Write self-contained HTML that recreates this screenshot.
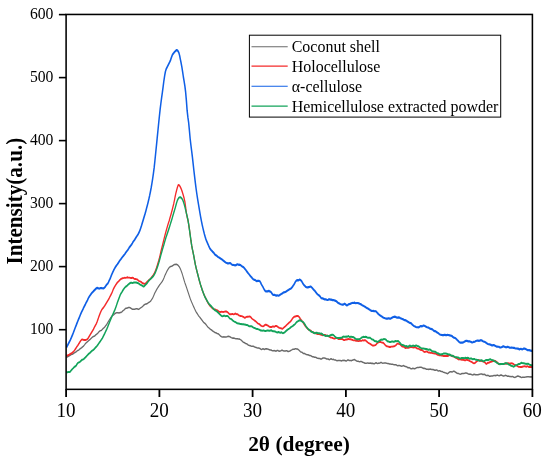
<!DOCTYPE html>
<html><head><meta charset="utf-8"><title>XRD</title>
<style>html,body{margin:0;padding:0;background:#fff}svg{display:block}text{font-family:"Liberation Serif",serif;fill:#000}</style></head><body>
<svg width="550" height="463" viewBox="0 0 550 463">
<rect width="550" height="463" fill="#fff"/>
<polyline transform="scale(0.68,1)" fill="none" stroke="#6a6a6a" stroke-width="1.55" stroke-linejoin="round" stroke-linecap="butt" points="97.65,357.48 98.75,356.95 99.85,356.52 100.96,356.16 102.06,355.67 103.16,355.31 104.26,354.81 105.37,354.32 106.47,354.19 107.57,353.80 108.68,353.13 109.78,352.69 110.88,352.30 111.99,351.75 113.09,351.08 114.19,350.53 115.29,350.17 116.40,349.71 117.50,348.97 118.60,348.34 119.71,347.95 120.81,347.27 121.91,346.57 123.01,345.99 124.12,345.00 125.22,343.96 126.32,343.08 127.43,342.35 128.53,341.82 129.63,341.12 130.74,340.42 131.84,339.80 132.94,339.05 134.04,338.34 135.15,337.60 136.25,336.95 137.35,336.56 138.46,336.33 139.56,335.80 140.66,334.99 141.76,334.34 142.87,333.73 143.97,333.07 145.07,332.23 146.18,331.35 147.28,330.78 148.38,330.56 149.49,330.17 150.59,329.27 151.69,328.48 152.79,327.91 153.90,327.05 155.00,326.10 156.10,325.19 157.21,324.11 158.31,322.78 159.41,321.42 160.51,320.17 161.62,318.99 162.72,317.89 163.82,316.79 164.93,315.78 166.03,315.30 167.13,314.89 168.24,314.12 169.34,313.40 170.44,312.99 171.54,312.84 172.65,312.75 173.75,312.79 174.85,312.94 175.96,312.69 177.06,312.46 178.16,312.36 179.26,311.83 180.37,311.04 181.47,310.43 182.57,309.85 183.68,309.02 184.78,308.34 185.88,308.19 186.99,308.11 188.09,307.73 189.19,307.40 190.29,307.50 191.40,307.74 192.50,308.17 193.60,308.82 194.71,309.21 195.81,309.26 196.91,309.30 198.01,309.26 199.12,309.05 200.22,308.83 201.32,308.69 202.43,308.99 203.53,309.38 204.63,309.05 205.74,308.41 206.84,307.86 207.94,307.34 209.04,306.84 210.15,306.09 211.25,305.27 212.35,304.70 213.46,304.34 214.56,304.11 215.66,303.88 216.76,303.52 217.87,302.90 218.97,302.34 220.07,301.92 221.18,301.31 222.28,300.32 223.38,299.18 224.49,298.02 225.59,296.41 226.69,294.52 227.79,292.82 228.90,291.46 230.00,290.00 231.10,288.64 232.21,287.52 233.31,286.35 234.41,285.19 235.51,284.21 236.62,283.23 237.72,282.22 238.82,281.14 239.93,279.77 241.03,278.06 242.13,276.22 243.24,274.44 244.34,272.85 245.44,271.29 246.54,269.85 247.65,268.71 248.75,267.63 249.85,266.91 250.96,266.60 252.06,266.27 253.16,265.93 254.26,265.46 255.37,264.91 256.47,264.59 257.57,264.49 258.68,264.39 259.78,264.38 260.88,264.77 261.99,265.45 263.09,266.29 264.19,267.37 265.29,268.96 266.40,270.84 267.50,272.86 268.60,275.28 269.71,277.86 270.81,280.41 271.91,282.80 273.01,284.94 274.12,287.03 275.22,289.31 276.32,291.62 277.43,293.84 278.53,296.17 279.63,298.39 280.74,300.32 281.84,302.18 282.94,303.90 284.04,305.56 285.15,307.25 286.25,308.91 287.35,310.49 288.46,311.91 289.56,313.11 290.66,314.33 291.76,315.57 292.87,316.51 293.97,317.38 295.07,318.42 296.18,319.42 297.28,320.39 298.38,321.41 299.49,322.34 300.59,322.99 301.69,323.53 302.79,324.43 303.90,325.50 305.00,326.42 306.10,327.29 307.21,327.96 308.31,328.62 309.41,329.35 310.51,329.73 311.62,330.26 312.72,331.02 313.82,331.38 314.93,331.95 316.03,332.59 317.13,332.72 318.24,332.97 319.34,333.48 320.44,333.72 321.54,334.10 322.65,334.91 323.75,335.70 324.85,336.30 325.96,336.72 327.06,336.92 328.16,336.93 329.26,336.81 330.37,336.99 331.47,337.10 332.57,336.96 333.68,336.78 334.78,336.51 335.88,336.37 336.99,336.54 338.09,336.81 339.19,337.16 340.29,337.62 341.40,338.04 342.50,338.14 343.60,338.13 344.71,338.23 345.81,338.57 346.91,338.77 348.01,338.65 349.12,338.80 350.22,339.05 351.32,338.99 352.43,339.12 353.53,339.60 354.63,340.09 355.74,340.76 356.84,341.58 357.94,342.22 359.04,342.59 360.15,342.98 361.25,343.51 362.35,343.77 363.46,344.10 364.56,344.78 365.66,345.27 366.76,345.42 367.87,345.63 368.97,346.01 370.07,346.17 371.18,346.15 372.28,346.27 373.38,346.60 374.49,346.92 375.59,347.19 376.69,347.50 377.79,347.80 378.90,348.04 380.00,348.03 381.10,348.11 382.21,348.55 383.31,349.07 384.41,349.40 385.51,349.14 386.62,348.67 387.72,349.04 388.82,349.40 389.93,349.07 391.03,348.81 392.13,348.86 393.24,348.97 394.34,349.20 395.44,349.52 396.54,349.88 397.65,349.95 398.75,350.01 399.85,350.46 400.96,350.77 402.06,350.74 403.16,350.59 404.26,350.68 405.37,351.13 406.47,350.96 407.57,350.40 408.68,350.46 409.78,350.92 410.88,351.14 411.99,351.01 413.09,350.76 414.19,350.32 415.29,350.30 416.40,350.84 417.50,350.98 418.60,350.99 419.71,351.01 420.81,350.70 421.91,350.77 423.01,351.37 424.12,351.54 425.22,351.27 426.32,350.98 427.43,350.52 428.53,350.13 429.63,349.66 430.74,349.19 431.84,349.19 432.94,349.17 434.04,348.84 435.15,348.85 436.25,348.98 437.35,349.03 438.46,349.47 439.56,350.18 440.66,350.94 441.76,351.69 442.87,352.04 443.97,352.15 445.07,352.80 446.18,353.52 447.28,353.54 448.38,353.62 449.49,354.17 450.59,354.60 451.69,354.71 452.79,354.67 453.90,354.93 455.00,355.45 456.10,355.56 457.21,355.69 458.31,356.31 459.41,356.66 460.51,356.68 461.62,356.92 462.72,357.23 463.82,357.35 464.93,357.58 466.03,357.94 467.13,358.17 468.24,358.36 469.34,358.41 470.44,358.56 471.54,358.98 472.65,359.06 473.75,358.47 474.85,358.04 475.96,358.06 477.06,358.03 478.16,358.18 479.26,358.54 480.37,358.90 481.47,358.90 482.57,358.94 483.68,359.50 484.78,359.65 485.88,359.05 486.99,358.79 488.09,359.26 489.19,359.46 490.29,359.35 491.40,359.71 492.50,359.96 493.60,360.06 494.71,360.48 495.81,360.67 496.91,360.53 498.01,360.50 499.12,360.42 500.22,360.44 501.32,360.75 502.43,360.87 503.53,360.41 504.63,360.19 505.74,360.41 506.84,360.39 507.94,360.73 509.04,361.10 510.15,360.64 511.25,360.01 512.35,360.07 513.46,360.52 514.56,360.58 515.66,360.59 516.76,360.63 517.87,360.37 518.97,360.12 520.07,359.75 521.18,359.47 522.28,359.92 523.38,360.59 524.49,360.96 525.59,361.19 526.69,361.34 527.79,361.59 528.90,361.72 530.00,361.60 531.10,361.53 532.21,361.74 533.31,362.24 534.41,362.53 535.51,362.81 536.62,363.21 537.72,363.24 538.82,363.16 539.93,363.08 541.03,362.96 542.13,363.18 543.24,363.16 544.34,363.06 545.44,363.35 546.54,363.39 547.65,363.33 548.75,363.42 549.85,363.70 550.96,363.69 552.06,363.04 553.16,362.74 554.26,363.17 555.37,363.47 556.47,363.23 557.57,363.14 558.68,362.96 559.78,362.51 560.88,362.56 561.99,362.91 563.09,363.15 564.19,363.09 565.29,363.00 566.40,363.05 567.50,363.10 568.60,363.31 569.71,363.43 570.81,363.44 571.91,363.67 573.01,363.98 574.12,364.07 575.22,364.18 576.32,364.19 577.43,364.16 578.53,364.44 579.63,364.68 580.74,364.71 581.84,364.69 582.94,364.89 584.04,365.49 585.15,365.75 586.25,365.51 587.35,365.50 588.46,365.72 589.56,365.98 590.66,366.24 591.76,366.03 592.87,365.61 593.97,365.78 595.07,366.21 596.18,366.46 597.28,366.62 598.38,366.94 599.49,367.62 600.59,367.85 601.69,367.63 602.79,368.03 603.90,368.65 605.00,368.80 606.10,368.62 607.21,368.36 608.31,368.45 609.41,368.73 610.51,368.63 611.62,368.11 612.72,367.66 613.82,367.49 614.93,367.43 616.03,367.44 617.13,367.33 618.24,367.27 619.34,367.35 620.44,367.55 621.54,368.09 622.65,368.36 623.75,368.29 624.85,368.44 625.96,368.72 627.06,369.16 628.16,369.35 629.26,369.31 630.37,369.39 631.47,369.24 632.57,369.09 633.68,369.22 634.78,369.40 635.88,369.55 636.99,369.64 638.09,369.79 639.19,370.17 640.29,370.34 641.40,370.04 642.50,370.04 643.60,370.64 644.71,370.99 645.81,370.79 646.91,370.74 648.01,371.30 649.12,371.57 650.22,371.51 651.32,371.89 652.43,372.24 653.53,372.51 654.63,372.83 655.74,372.96 656.84,373.36 657.94,373.68 659.04,373.24 660.15,372.58 661.25,372.08 662.35,371.74 663.46,371.73 664.56,371.99 665.66,371.73 666.76,371.25 667.87,371.35 668.97,371.76 670.07,372.19 671.18,372.73 672.28,373.33 673.38,373.43 674.49,373.42 675.59,373.88 676.69,374.27 677.79,374.08 678.90,373.62 680.00,373.49 681.10,373.54 682.21,373.53 683.31,373.32 684.41,372.92 685.51,372.97 686.62,373.26 687.72,373.58 688.82,374.05 689.93,374.15 691.03,374.06 692.13,374.28 693.24,374.53 694.34,374.85 695.44,374.94 696.54,374.37 697.65,374.22 698.75,374.63 699.85,374.76 700.96,374.74 702.06,374.69 703.16,374.61 704.26,374.49 705.37,374.24 706.47,374.10 707.57,373.92 708.68,374.01 709.78,374.50 710.88,374.54 711.99,374.23 713.09,374.49 714.19,375.18 715.29,375.51 716.40,375.42 717.50,375.30 718.60,375.62 719.71,376.27 720.81,376.28 721.91,376.04 723.01,376.02 724.12,375.97 725.22,375.74 726.32,375.54 727.43,375.56 728.53,375.64 729.63,375.58 730.74,375.20 731.84,375.14 732.94,375.59 734.04,375.77 735.15,375.42 736.25,375.10 737.35,375.10 738.46,375.41 739.56,375.89 740.66,375.99 741.76,375.82 742.87,375.48 743.97,375.37 745.07,375.84 746.18,376.15 747.28,376.07 748.38,376.16 749.49,376.40 750.59,376.54 751.69,376.67 752.79,376.58 753.90,376.60 755.00,376.97 756.10,377.34 757.21,377.44 758.31,377.09 759.41,376.71 760.51,376.32 761.62,375.97 762.72,376.20 763.82,376.62 764.93,376.79 766.03,377.25 767.13,377.41 768.24,377.25 769.34,377.35 770.44,377.33 771.54,377.19 772.65,377.09 773.75,376.96 774.85,376.80 775.96,376.80 777.06,376.75 778.16,376.78 779.26,376.95 780.37,376.87 781.47,376.83 782.57,376.90"/>
<polyline transform="scale(0.68,1)" fill="none" stroke="#f42a2a" stroke-width="1.9" stroke-linejoin="round" stroke-linecap="butt" points="97.65,355.82 98.75,355.41 99.85,355.29 100.96,355.02 102.06,354.49 103.16,354.00 104.26,353.58 105.37,353.23 106.47,352.60 107.57,351.91 108.68,351.17 109.78,350.15 110.88,349.01 111.99,347.81 113.09,346.66 114.19,345.59 115.29,344.47 116.40,343.26 117.50,341.99 118.60,340.85 119.71,339.88 120.81,339.41 121.91,339.63 123.01,339.95 124.12,339.98 125.22,339.93 126.32,339.94 127.43,339.69 128.53,339.14 129.63,338.22 130.74,336.93 131.84,335.66 132.94,334.43 134.04,333.16 135.15,331.89 136.25,330.68 137.35,329.37 138.46,327.78 139.56,326.27 140.66,324.96 141.76,323.55 142.87,321.66 143.97,319.48 145.07,317.31 146.18,315.27 147.28,313.31 148.38,311.47 149.49,309.95 150.59,308.81 151.69,307.90 152.79,306.95 153.90,305.85 155.00,304.57 156.10,303.28 157.21,302.09 158.31,300.86 159.41,299.62 160.51,298.28 161.62,296.76 162.72,295.32 163.82,293.92 164.93,292.26 166.03,290.35 167.13,288.55 168.24,287.14 169.34,285.94 170.44,284.73 171.54,283.57 172.65,282.54 173.75,281.77 174.85,280.99 175.96,280.13 177.06,279.43 178.16,278.94 179.26,278.52 180.37,278.19 181.47,278.09 182.57,277.92 183.68,277.78 184.78,277.90 185.88,277.68 186.99,277.29 188.09,277.52 189.19,277.65 190.29,277.62 191.40,277.84 192.50,277.96 193.60,277.95 194.71,277.73 195.81,277.83 196.91,278.54 198.01,278.95 199.12,279.00 200.22,279.17 201.32,279.36 202.43,279.74 203.53,280.53 204.63,281.16 205.74,281.33 206.84,281.59 207.94,282.13 209.04,282.91 210.15,283.47 211.25,283.48 212.35,283.70 213.46,283.83 214.56,283.18 215.66,282.29 216.76,281.43 217.87,280.72 218.97,280.13 220.07,279.47 221.18,278.83 222.28,277.99 223.38,276.90 224.49,275.92 225.59,274.94 226.69,273.71 227.79,272.16 228.90,270.30 230.00,268.25 231.10,265.85 232.21,263.33 233.31,260.83 234.41,258.06 235.51,254.99 236.62,251.67 237.72,248.50 238.82,245.59 239.93,242.56 241.03,239.47 242.13,236.48 243.24,233.66 244.34,230.96 245.44,228.25 246.54,225.64 247.65,223.21 248.75,220.78 249.85,218.19 250.96,215.52 252.06,212.85 253.16,210.03 254.26,207.11 255.37,204.07 256.47,200.47 257.57,196.61 258.68,193.08 259.78,190.18 260.88,187.33 261.99,185.28 263.09,184.94 264.19,185.74 265.29,187.13 266.40,188.82 267.50,190.74 268.60,193.07 269.71,195.69 270.81,198.45 271.91,201.80 273.01,207.30 274.12,213.22 275.22,216.84 276.32,219.84 277.43,224.04 278.53,229.26 279.63,234.68 280.74,240.32 281.84,245.30 282.94,249.25 284.04,252.83 285.15,256.63 286.25,260.76 287.35,264.69 288.46,268.07 289.56,271.18 290.66,274.07 291.76,276.94 292.87,279.83 293.97,282.57 295.07,285.07 296.18,287.40 297.28,289.69 298.38,291.82 299.49,293.74 300.59,295.48 301.69,297.10 302.79,298.74 303.90,300.33 305.00,301.78 306.10,303.10 307.21,304.32 308.31,305.41 309.41,306.20 310.51,306.86 311.62,307.65 312.72,308.36 313.82,308.81 314.93,309.13 316.03,309.38 317.13,309.77 318.24,310.14 319.34,310.31 320.44,310.75 321.54,311.40 322.65,311.90 323.75,312.03 324.85,311.83 325.96,311.67 327.06,311.90 328.16,312.04 329.26,311.90 330.37,311.59 331.47,311.34 332.57,311.49 333.68,311.79 334.78,312.15 335.88,312.94 336.99,313.85 338.09,314.25 339.19,314.24 340.29,314.18 341.40,313.97 342.50,314.04 343.60,314.42 344.71,314.15 345.81,313.51 346.91,313.82 348.01,314.20 349.12,314.23 350.22,314.71 351.32,315.32 352.43,315.65 353.53,315.98 354.63,316.05 355.74,316.08 356.84,316.53 357.94,316.97 359.04,317.47 360.15,317.77 361.25,317.29 362.35,316.83 363.46,316.73 364.56,316.77 365.66,316.61 366.76,316.39 367.87,316.61 368.97,317.31 370.07,318.26 371.18,319.00 372.28,319.50 373.38,320.00 374.49,320.56 375.59,321.14 376.69,321.78 377.79,322.53 378.90,323.29 380.00,323.70 381.10,323.96 382.21,324.62 383.31,325.43 384.41,325.93 385.51,326.18 386.62,326.39 387.72,326.09 388.82,325.38 389.93,324.81 391.03,324.65 392.13,325.01 393.24,325.37 394.34,325.74 395.44,326.33 396.54,326.92 397.65,326.98 398.75,326.96 399.85,326.97 400.96,326.48 402.06,326.47 403.16,326.86 404.26,326.47 405.37,325.94 406.47,325.93 407.57,326.36 408.68,326.95 409.78,327.50 410.88,327.91 411.99,328.10 413.09,328.20 414.19,328.66 415.29,328.80 416.40,328.24 417.50,327.52 418.60,326.87 419.71,326.20 420.81,325.46 421.91,324.70 423.01,324.04 424.12,323.35 425.22,322.59 426.32,321.95 427.43,321.31 428.53,320.27 429.63,319.05 430.74,317.99 431.84,317.20 432.94,316.74 434.04,316.51 435.15,316.30 436.25,316.04 437.35,315.90 438.46,316.04 439.56,316.72 440.66,317.77 441.76,318.92 442.87,319.92 443.97,320.82 445.07,321.91 446.18,323.12 447.28,324.31 448.38,325.44 449.49,326.44 450.59,327.35 451.69,328.24 452.79,329.02 453.90,329.66 455.00,330.15 456.10,330.44 457.21,330.75 458.31,331.51 459.41,332.21 460.51,332.32 461.62,332.55 462.72,333.05 463.82,333.22 464.93,333.44 466.03,333.93 467.13,334.16 468.24,334.12 469.34,334.12 470.44,334.35 471.54,334.65 472.65,334.90 473.75,335.16 474.85,335.19 475.96,335.12 477.06,335.02 478.16,334.99 479.26,335.35 480.37,335.63 481.47,335.69 482.57,335.97 483.68,336.38 484.78,336.78 485.88,337.33 486.99,337.66 488.09,337.67 489.19,337.97 490.29,338.43 491.40,338.60 492.50,338.47 493.60,338.15 494.71,337.96 495.81,338.09 496.91,338.61 498.01,339.12 499.12,339.14 500.22,339.14 501.32,339.02 502.43,338.82 503.53,339.04 504.63,339.53 505.74,340.10 506.84,340.12 507.94,339.60 509.04,339.48 510.15,339.49 511.25,339.20 512.35,338.95 513.46,339.07 514.56,339.23 515.66,339.26 516.76,339.53 517.87,339.77 518.97,340.11 520.07,340.38 521.18,340.27 522.28,340.40 523.38,340.73 524.49,340.76 525.59,340.83 526.69,341.09 527.79,341.02 528.90,340.71 530.00,340.71 531.10,340.93 532.21,340.65 533.31,340.20 534.41,340.43 535.51,340.46 536.62,340.07 537.72,340.41 538.82,341.16 539.93,341.82 541.03,342.49 542.13,343.08 543.24,343.37 544.34,343.78 545.44,344.33 546.54,344.91 547.65,345.47 548.75,345.69 549.85,345.46 550.96,345.33 552.06,345.15 553.16,344.45 554.26,343.51 555.37,342.78 556.47,342.37 557.57,342.05 558.68,341.86 559.78,341.95 560.88,342.31 561.99,342.61 563.09,342.71 564.19,343.20 565.29,344.06 566.40,344.89 567.50,345.70 568.60,346.24 569.71,346.42 570.81,346.64 571.91,346.72 573.01,347.01 574.12,347.00 575.22,346.60 576.32,346.58 577.43,346.52 578.53,346.43 579.63,346.31 580.74,345.93 581.84,345.41 582.94,344.67 584.04,343.83 585.15,343.47 586.25,343.87 587.35,344.08 588.46,344.42 589.56,345.26 590.66,346.07 591.76,346.52 592.87,346.68 593.97,346.90 595.07,347.51 596.18,348.04 597.28,347.91 598.38,347.67 599.49,347.84 600.59,347.70 601.69,347.49 602.79,347.37 603.90,347.16 605.00,347.16 606.10,347.25 607.21,347.37 608.31,347.47 609.41,347.30 610.51,347.21 611.62,347.67 612.72,348.25 613.82,348.49 614.93,348.61 616.03,348.93 617.13,349.36 618.24,349.77 619.34,349.98 620.44,350.04 621.54,350.48 622.65,351.27 623.75,351.90 624.85,351.96 625.96,351.68 627.06,351.50 628.16,351.57 629.26,352.18 630.37,352.58 631.47,352.52 632.57,352.71 633.68,352.90 634.78,352.92 635.88,353.08 636.99,353.23 638.09,353.35 639.19,353.56 640.29,353.67 641.40,353.87 642.50,354.41 643.60,354.78 644.71,354.92 645.81,355.26 646.91,355.38 648.01,355.29 649.12,355.49 650.22,355.68 651.32,355.83 652.43,356.02 653.53,355.95 654.63,355.97 655.74,356.07 656.84,355.99 657.94,356.01 659.04,355.94 660.15,355.48 661.25,355.05 662.35,355.02 663.46,355.51 664.56,356.09 665.66,356.31 666.76,356.29 667.87,356.69 668.97,357.28 670.07,357.71 671.18,358.05 672.28,358.43 673.38,359.04 674.49,359.48 675.59,359.40 676.69,359.28 677.79,359.45 678.90,359.73 680.00,359.86 681.10,359.88 682.21,359.96 683.31,360.31 684.41,360.37 685.51,359.91 686.62,359.76 687.72,360.04 688.82,360.25 689.93,360.54 691.03,361.09 692.13,361.46 693.24,361.76 694.34,362.22 695.44,362.79 696.54,363.21 697.65,363.20 698.75,362.82 699.85,362.20 700.96,361.52 702.06,360.86 703.16,360.14 704.26,360.06 705.37,360.54 706.47,360.74 707.57,360.90 708.68,361.10 709.78,361.21 710.88,361.55 711.99,361.97 713.09,362.52 714.19,363.32 715.29,363.96 716.40,363.32 717.50,362.67 718.60,362.74 719.71,362.46 720.81,361.98 721.91,361.82 723.01,361.47 724.12,361.20 725.22,360.98 726.32,360.76 727.43,360.81 728.53,361.03 729.63,361.52 730.74,362.12 731.84,362.91 732.94,363.73 734.04,363.98 735.15,363.91 736.25,363.90 737.35,363.93 738.46,363.99 739.56,364.00 740.66,363.87 741.76,363.67 742.87,363.55 743.97,363.72 745.07,363.71 746.18,363.35 747.28,363.22 748.38,363.42 749.49,363.71 750.59,363.55 751.69,363.27 752.79,363.33 753.90,363.51 755.00,363.95 756.10,364.63 757.21,365.24 758.31,365.56 759.41,365.63 760.51,365.88 761.62,366.40 762.72,366.78 763.82,366.91 764.93,366.96 766.03,366.98 767.13,366.95 768.24,366.72 769.34,366.50 770.44,366.42 771.54,366.23 772.65,366.41 773.75,366.78 774.85,366.43 775.96,366.25 777.06,366.74 778.16,367.06 779.26,367.04 780.37,366.99 781.47,367.02 782.57,367.12"/>
<polyline transform="scale(0.68,1)" fill="none" stroke="#0f5fe6" stroke-width="2.2" stroke-linejoin="round" stroke-linecap="butt" points="97.65,347.41 98.75,346.20 99.85,344.74 100.96,343.20 102.06,341.79 103.16,340.39 104.26,338.73 105.37,336.91 106.47,335.10 107.57,333.27 108.68,331.26 109.78,329.21 110.88,327.31 111.99,325.38 113.09,323.36 114.19,321.45 115.29,319.65 116.40,317.83 117.50,315.94 118.60,314.14 119.71,312.46 120.81,310.94 121.91,309.37 123.01,307.68 124.12,306.22 125.22,304.78 126.32,303.19 127.43,301.79 128.53,300.36 129.63,298.70 130.74,297.21 131.84,296.00 132.94,294.93 134.04,293.85 135.15,292.95 136.25,292.09 137.35,291.26 138.46,290.48 139.56,289.72 140.66,288.99 141.76,288.23 142.87,287.89 143.97,288.08 145.07,288.49 146.18,288.56 147.28,288.19 148.38,288.08 149.49,287.97 150.59,288.23 151.69,288.50 152.79,288.15 153.90,287.53 155.00,286.60 156.10,285.34 157.21,284.41 158.31,283.69 159.41,282.33 160.51,280.72 161.62,279.13 162.72,277.32 163.82,275.38 164.93,273.55 166.03,271.85 167.13,270.29 168.24,268.91 169.34,267.56 170.44,266.34 171.54,265.27 172.65,264.22 173.75,263.12 174.85,261.96 175.96,260.78 177.06,259.77 178.16,258.83 179.26,257.75 180.37,256.74 181.47,255.83 182.57,254.98 183.68,254.00 184.78,252.83 185.88,251.74 186.99,250.76 188.09,249.84 189.19,248.63 190.29,247.32 191.40,246.33 192.50,245.45 193.60,244.41 194.71,243.13 195.81,241.79 196.91,240.77 198.01,239.80 199.12,238.58 200.22,237.34 201.32,236.11 202.43,234.91 203.53,233.72 204.63,232.23 205.74,230.40 206.84,228.30 207.94,226.02 209.04,223.55 210.15,220.99 211.25,218.46 212.35,216.00 213.46,213.51 214.56,210.79 215.66,207.94 216.76,205.05 217.87,202.08 218.97,198.95 220.07,195.55 221.18,191.84 222.28,187.87 223.38,183.52 224.49,178.71 225.59,173.45 226.69,167.71 227.79,160.90 228.90,153.42 230.00,146.01 231.10,138.49 232.21,130.80 233.31,123.30 234.41,116.13 235.51,109.25 236.62,103.09 237.72,97.58 238.82,92.19 239.93,86.45 241.03,80.64 242.13,75.74 243.24,71.61 244.34,69.17 245.44,67.55 246.54,66.08 247.65,64.56 248.75,63.07 249.85,61.63 250.96,59.83 252.06,57.56 253.16,55.42 254.26,54.05 255.37,53.10 256.47,52.21 257.57,51.38 258.68,50.61 259.78,50.12 260.88,50.29 261.99,51.34 263.09,52.92 264.19,55.65 265.29,59.52 266.40,63.18 267.50,67.22 268.60,72.01 269.71,77.14 270.81,81.45 271.91,86.19 273.01,92.31 274.12,100.76 275.22,110.76 276.32,117.20 277.43,122.63 278.53,130.31 279.63,138.57 280.74,145.18 281.84,150.96 282.94,156.98 284.04,163.70 285.15,170.57 286.25,177.03 287.35,183.27 288.46,189.11 289.56,194.38 290.66,199.25 291.76,203.84 292.87,208.32 293.97,212.79 295.07,217.08 296.18,221.05 297.28,224.69 298.38,227.98 299.49,231.11 300.59,234.12 301.69,236.76 302.79,239.19 303.90,241.23 305.00,242.86 306.10,244.53 307.21,246.31 308.31,247.91 309.41,249.17 310.51,250.11 311.62,250.95 312.72,251.75 313.82,252.46 314.93,253.37 316.03,254.45 317.13,255.12 318.24,255.49 319.34,256.20 320.44,256.96 321.54,257.29 322.65,257.67 323.75,258.28 324.85,258.86 325.96,259.34 327.06,259.85 328.16,260.46 329.26,261.07 330.37,261.66 331.47,262.32 332.57,262.75 333.68,263.05 334.78,263.38 335.88,263.44 336.99,263.28 338.09,263.04 339.19,263.32 340.29,264.12 341.40,264.71 342.50,264.96 343.60,264.99 344.71,265.21 345.81,265.34 346.91,265.21 348.01,264.65 349.12,264.24 350.22,264.53 351.32,264.81 352.43,264.70 353.53,264.97 354.63,265.64 355.74,266.32 356.84,266.73 357.94,267.13 359.04,267.93 360.15,268.80 361.25,269.73 362.35,270.84 363.46,271.87 364.56,272.86 365.66,273.75 366.76,274.71 367.87,275.74 368.97,276.54 370.07,277.36 371.18,278.36 372.28,279.17 373.38,279.57 374.49,279.83 375.59,280.32 376.69,280.85 377.79,281.07 378.90,280.91 380.00,280.86 381.10,280.94 382.21,281.33 383.31,282.67 384.41,284.37 385.51,285.65 386.62,286.89 387.72,288.38 388.82,289.80 389.93,290.85 391.03,291.43 392.13,291.46 393.24,291.41 394.34,291.11 395.44,290.87 396.54,291.38 397.65,291.64 398.75,292.23 399.85,293.40 400.96,294.48 402.06,294.98 403.16,294.90 404.26,294.89 405.37,295.41 406.47,295.66 407.57,295.30 408.68,295.50 409.78,295.76 410.88,295.30 411.99,294.65 413.09,294.18 414.19,293.80 415.29,293.39 416.40,292.82 417.50,292.33 418.60,292.12 419.71,291.86 420.81,291.46 421.91,290.91 423.01,290.37 424.12,289.99 425.22,289.53 426.32,289.10 427.43,288.68 428.53,288.04 429.63,287.13 430.74,286.12 431.84,284.94 432.94,283.68 434.04,282.35 435.15,281.13 436.25,280.35 437.35,280.17 438.46,280.36 439.56,280.13 440.66,279.57 441.76,279.97 442.87,280.65 443.97,281.64 445.07,283.06 446.18,284.39 447.28,285.21 448.38,285.90 449.49,286.80 450.59,287.23 451.69,287.33 452.79,287.44 453.90,287.20 455.00,286.98 456.10,286.64 457.21,286.66 458.31,287.41 459.41,288.20 460.51,289.06 461.62,289.96 462.72,290.65 463.82,291.59 464.93,292.63 466.03,293.58 467.13,294.39 468.24,294.95 469.34,295.48 470.44,296.22 471.54,297.31 472.65,298.25 473.75,298.41 474.85,298.45 475.96,298.88 477.06,299.35 478.16,299.41 479.26,299.39 480.37,299.72 481.47,299.97 482.57,299.80 483.68,299.27 484.78,299.31 485.88,299.64 486.99,299.59 488.09,299.87 489.19,300.14 490.29,300.13 491.40,300.28 492.50,300.58 493.60,300.92 494.71,301.27 495.81,301.97 496.91,302.77 498.01,303.17 499.12,303.52 500.22,303.94 501.32,304.26 502.43,304.52 503.53,304.69 504.63,304.70 505.74,304.14 506.84,303.72 507.94,304.18 509.04,305.00 510.15,305.44 511.25,305.00 512.35,304.34 513.46,304.11 514.56,303.93 515.66,303.69 516.76,303.26 517.87,302.95 518.97,302.98 520.07,302.88 521.18,302.68 522.28,302.96 523.38,303.22 524.49,303.00 525.59,303.01 526.69,303.21 527.79,303.37 528.90,303.78 530.00,304.06 531.10,304.35 532.21,305.01 533.31,305.51 534.41,305.79 535.51,306.30 536.62,306.71 537.72,307.11 538.82,307.75 539.93,308.15 541.03,308.47 542.13,309.01 543.24,309.61 544.34,310.09 545.44,310.48 546.54,310.92 547.65,311.01 548.75,310.86 549.85,311.06 550.96,311.27 552.06,311.20 553.16,311.46 554.26,312.31 555.37,313.24 556.47,313.97 557.57,314.66 558.68,315.22 559.78,315.72 560.88,316.28 561.99,316.79 563.09,317.37 564.19,317.74 565.29,317.96 566.40,318.30 567.50,318.54 568.60,318.69 569.71,318.70 570.81,318.40 571.91,318.29 573.01,318.57 574.12,318.67 575.22,318.26 576.32,317.73 577.43,317.36 578.53,317.04 579.63,316.79 580.74,316.62 581.84,316.94 582.94,317.40 584.04,317.57 585.15,317.57 586.25,317.46 587.35,317.59 588.46,318.06 589.56,318.43 590.66,318.73 591.76,319.04 592.87,319.34 593.97,319.85 595.07,320.09 596.18,320.18 597.28,320.61 598.38,321.13 599.49,321.60 600.59,322.02 601.69,322.58 602.79,322.96 603.90,323.04 605.00,323.59 606.10,324.46 607.21,325.17 608.31,325.81 609.41,326.21 610.51,326.54 611.62,327.01 612.72,327.26 613.82,327.26 614.93,327.32 616.03,327.12 617.13,326.64 618.24,326.15 619.34,326.15 620.44,326.41 621.54,326.06 622.65,325.56 623.75,325.69 624.85,325.99 625.96,326.44 627.06,326.90 628.16,327.24 629.26,327.47 630.37,327.69 631.47,328.15 632.57,328.66 633.68,328.95 634.78,329.11 635.88,329.40 636.99,330.08 638.09,330.81 639.19,331.08 640.29,331.16 641.40,331.71 642.50,332.37 643.60,332.80 644.71,333.26 645.81,333.88 646.91,334.44 648.01,334.73 649.12,334.90 650.22,335.03 651.32,335.11 652.43,335.13 653.53,334.84 654.63,334.87 655.74,335.20 656.84,335.05 657.94,334.94 659.04,335.02 660.15,335.11 661.25,335.29 662.35,335.54 663.46,335.70 664.56,336.04 665.66,336.77 666.76,337.42 667.87,337.74 668.97,337.93 670.07,338.29 671.18,339.05 672.28,339.87 673.38,340.65 674.49,341.49 675.59,342.16 676.69,342.56 677.79,342.63 678.90,342.58 680.00,342.61 681.10,342.46 682.21,342.02 683.31,341.46 684.41,341.15 685.51,340.89 686.62,340.73 687.72,341.17 688.82,341.40 689.93,341.30 691.03,341.45 692.13,341.77 693.24,342.12 694.34,342.48 695.44,342.23 696.54,341.81 697.65,341.79 698.75,341.46 699.85,341.01 700.96,340.73 702.06,340.56 703.16,340.62 704.26,340.79 705.37,340.66 706.47,340.32 707.57,340.19 708.68,340.52 709.78,341.06 710.88,341.54 711.99,341.74 713.09,341.88 714.19,342.42 715.29,343.06 716.40,343.59 717.50,344.03 718.60,344.23 719.71,344.31 720.81,344.48 721.91,344.88 723.01,345.36 724.12,345.44 725.22,345.11 726.32,345.08 727.43,345.43 728.53,345.90 729.63,346.36 730.74,346.58 731.84,346.68 732.94,346.73 734.04,346.92 735.15,347.39 736.25,347.52 737.35,347.24 738.46,346.88 739.56,346.47 740.66,346.42 741.76,346.70 742.87,346.97 743.97,347.31 745.07,347.18 746.18,346.88 747.28,346.97 748.38,347.26 749.49,347.68 750.59,347.73 751.69,347.58 752.79,347.61 753.90,347.74 755.00,347.80 756.10,347.93 757.21,348.25 758.31,348.46 759.41,348.52 760.51,348.56 761.62,348.55 762.72,348.91 763.82,349.37 764.93,348.96 766.03,348.76 767.13,349.27 768.24,349.36 769.34,348.89 770.44,348.56 771.54,348.68 772.65,348.94 773.75,349.23 774.85,349.67 775.96,350.15 777.06,350.22 778.16,350.08 779.26,350.31 780.37,350.72 781.47,350.82 782.57,350.66"/>
<polyline transform="scale(0.68,1)" fill="none" stroke="#12a35a" stroke-width="2.0" stroke-linejoin="round" stroke-linecap="butt" points="97.65,371.77 98.75,372.13 99.85,372.14 100.96,371.89 102.06,372.00 103.16,371.72 104.26,370.76 105.37,369.81 106.47,369.04 107.57,368.29 108.68,367.42 109.78,366.70 110.88,366.30 111.99,365.55 113.09,364.25 114.19,363.22 115.29,362.68 116.40,362.29 117.50,361.85 118.60,361.22 119.71,360.36 120.81,359.70 121.91,359.48 123.01,359.09 124.12,358.36 125.22,357.67 126.32,356.94 127.43,356.04 128.53,355.20 129.63,354.43 130.74,353.70 131.84,353.05 132.94,352.31 134.04,351.58 135.15,350.95 136.25,350.36 137.35,349.79 138.46,349.11 139.56,348.23 140.66,347.37 141.76,346.67 142.87,345.77 143.97,344.70 145.07,343.62 146.18,342.54 147.28,341.49 148.38,340.34 149.49,339.24 150.59,338.11 151.69,336.65 152.79,335.14 153.90,333.64 155.00,332.00 156.10,330.39 157.21,328.85 158.31,327.05 159.41,325.01 160.51,323.15 161.62,321.29 162.72,319.42 163.82,317.67 164.93,315.96 166.03,314.30 167.13,312.61 168.24,310.91 169.34,309.13 170.44,307.06 171.54,304.82 172.65,302.56 173.75,300.50 174.85,298.52 175.96,296.48 177.06,294.55 178.16,293.22 179.26,292.12 180.37,290.75 181.47,289.49 182.57,288.53 183.68,287.55 184.78,286.77 185.88,286.26 186.99,285.58 188.09,284.82 189.19,284.21 190.29,283.53 191.40,282.98 192.50,282.73 193.60,282.74 194.71,282.90 195.81,282.80 196.91,282.60 198.01,282.62 199.12,282.55 200.22,282.50 201.32,282.78 202.43,283.05 203.53,283.34 204.63,283.90 205.74,284.47 206.84,284.84 207.94,285.20 209.04,285.67 210.15,286.19 211.25,286.52 212.35,285.99 213.46,285.10 214.56,284.35 215.66,283.63 216.76,282.71 217.87,281.62 218.97,280.60 220.07,279.75 221.18,279.07 222.28,278.43 223.38,277.71 224.49,276.88 225.59,275.95 226.69,274.89 227.79,273.48 228.90,271.72 230.00,269.75 231.10,267.73 232.21,265.54 233.31,263.12 234.41,260.53 235.51,257.78 236.62,255.00 237.72,252.31 238.82,249.73 239.93,247.19 241.03,244.58 242.13,241.88 243.24,239.28 244.34,236.89 245.44,234.70 246.54,232.54 247.65,230.29 248.75,227.96 249.85,225.57 250.96,223.18 252.06,220.79 253.16,218.30 254.26,215.67 255.37,213.03 256.47,210.54 257.57,208.11 258.68,205.41 259.78,202.67 260.88,200.38 261.99,198.82 263.09,197.68 264.19,197.35 265.29,197.27 266.40,197.69 267.50,198.53 268.60,199.80 269.71,201.77 270.81,204.11 271.91,206.81 273.01,210.04 274.12,213.29 275.22,216.41 276.32,219.84 277.43,224.13 278.53,229.32 279.63,234.72 280.74,240.33 281.84,245.30 282.94,249.21 284.04,252.74 285.15,256.63 286.25,260.82 287.35,264.72 288.46,268.00 289.56,271.03 290.66,273.97 291.76,276.90 292.87,279.78 293.97,282.49 295.07,285.07 296.18,287.45 297.28,289.72 298.38,291.83 299.49,293.83 300.59,295.74 301.69,297.34 302.79,298.71 303.90,299.98 305.00,301.29 306.10,302.59 307.21,303.70 308.31,304.65 309.41,305.37 310.51,306.06 311.62,307.00 312.72,307.88 313.82,308.68 314.93,309.58 316.03,310.28 317.13,310.65 318.24,311.09 319.34,311.69 320.44,312.42 321.54,313.17 322.65,313.84 323.75,314.54 324.85,315.33 325.96,315.98 327.06,316.22 328.16,316.06 329.26,315.71 330.37,315.82 331.47,316.16 332.57,316.11 333.68,315.95 334.78,316.08 335.88,316.63 336.99,317.65 338.09,318.60 339.19,318.86 340.29,319.13 341.40,319.84 342.50,320.55 343.60,321.16 344.71,321.60 345.81,321.92 346.91,322.41 348.01,322.96 349.12,323.34 350.22,323.45 351.32,323.46 352.43,323.72 353.53,323.90 354.63,324.06 355.74,324.27 356.84,324.18 357.94,324.22 359.04,324.44 360.15,324.59 361.25,324.78 362.35,324.95 363.46,324.99 364.56,325.35 365.66,325.95 366.76,326.21 367.87,326.34 368.97,326.34 370.07,326.33 371.18,326.79 372.28,327.40 373.38,327.76 374.49,328.00 375.59,328.36 376.69,328.72 377.79,328.92 378.90,329.08 380.00,329.35 381.10,329.62 382.21,330.04 383.31,330.47 384.41,330.52 385.51,330.65 386.62,330.60 387.72,330.42 388.82,330.76 389.93,330.95 391.03,330.89 392.13,330.65 393.24,330.43 394.34,330.57 395.44,330.73 396.54,330.79 397.65,330.46 398.75,330.25 399.85,330.76 400.96,331.17 402.06,331.31 403.16,331.35 404.26,331.43 405.37,331.68 406.47,332.15 407.57,332.59 408.68,332.29 409.78,331.97 410.88,332.41 411.99,332.83 413.09,332.45 414.19,332.31 415.29,332.99 416.40,333.14 417.50,332.83 418.60,332.40 419.71,331.57 420.81,330.81 421.91,330.25 423.01,329.66 424.12,329.14 425.22,328.68 426.32,328.19 427.43,327.44 428.53,326.71 429.63,326.32 430.74,325.85 431.84,325.25 432.94,324.66 434.04,323.98 435.15,323.01 436.25,322.05 437.35,321.51 438.46,321.15 439.56,320.56 440.66,320.29 441.76,320.54 442.87,320.80 443.97,321.32 445.07,321.81 446.18,322.25 447.28,323.21 448.38,324.50 449.49,325.78 450.59,326.89 451.69,327.87 452.79,328.75 453.90,329.43 455.00,330.00 456.10,330.75 457.21,331.54 458.31,331.82 459.41,331.93 460.51,332.46 461.62,333.06 462.72,333.18 463.82,332.95 464.93,332.68 466.03,332.74 467.13,333.17 468.24,333.34 469.34,333.17 470.44,333.37 471.54,333.64 472.65,333.58 473.75,333.87 474.85,334.58 475.96,335.09 477.06,335.37 478.16,335.73 479.26,335.99 480.37,335.75 481.47,335.67 482.57,336.12 483.68,336.22 484.78,335.71 485.88,335.28 486.99,335.03 488.09,334.76 489.19,334.74 490.29,335.01 491.40,335.75 492.50,336.56 493.60,337.14 494.71,337.65 495.81,337.88 496.91,337.89 498.01,337.91 499.12,337.90 500.22,337.84 501.32,337.88 502.43,337.73 503.53,337.10 504.63,336.60 505.74,336.68 506.84,336.82 507.94,336.64 509.04,336.53 510.15,336.72 511.25,336.42 512.35,336.04 513.46,336.58 514.56,336.96 515.66,336.77 516.76,336.69 517.87,336.91 518.97,337.06 520.07,337.24 521.18,337.79 522.28,338.41 523.38,338.94 524.49,339.19 525.59,339.20 526.69,339.31 527.79,339.30 528.90,339.04 530.00,338.62 531.10,338.00 532.21,337.47 533.31,337.12 534.41,336.81 535.51,336.88 536.62,337.03 537.72,336.80 538.82,337.02 539.93,337.52 541.03,337.67 542.13,337.67 543.24,337.66 544.34,337.85 545.44,338.50 546.54,339.18 547.65,339.41 548.75,339.63 549.85,340.35 550.96,341.07 552.06,341.30 553.16,341.28 554.26,341.73 555.37,341.96 556.47,341.40 557.57,340.90 558.68,340.35 559.78,339.80 560.88,339.62 561.99,339.71 563.09,339.56 564.19,339.12 565.29,339.12 566.40,339.25 567.50,339.60 568.60,340.46 569.71,341.27 570.81,341.53 571.91,341.61 573.01,341.99 574.12,342.07 575.22,341.67 576.32,341.48 577.43,341.46 578.53,341.71 579.63,341.78 580.74,341.18 581.84,340.96 582.94,341.33 584.04,341.12 585.15,340.92 586.25,341.47 587.35,342.27 588.46,343.13 589.56,344.04 590.66,344.74 591.76,344.98 592.87,345.10 593.97,345.38 595.07,345.93 596.18,346.23 597.28,346.02 598.38,346.18 599.49,346.79 600.59,346.67 601.69,345.88 602.79,345.57 603.90,345.95 605.00,346.18 606.10,345.88 607.21,345.61 608.31,345.65 609.41,345.96 610.51,345.95 611.62,345.51 612.72,345.60 613.82,345.94 614.93,346.12 616.03,346.53 617.13,347.16 618.24,347.65 619.34,348.13 620.44,348.46 621.54,348.48 622.65,348.56 623.75,348.65 624.85,348.83 625.96,349.06 627.06,348.99 628.16,349.14 629.26,349.69 630.37,349.78 631.47,349.46 632.57,349.56 633.68,350.23 634.78,350.89 635.88,351.31 636.99,351.48 638.09,351.56 639.19,351.67 640.29,351.84 641.40,352.40 642.50,352.94 643.60,353.16 644.71,353.49 645.81,353.89 646.91,354.32 648.01,354.49 649.12,354.33 650.22,354.23 651.32,353.87 652.43,353.58 653.53,353.60 654.63,353.60 655.74,353.62 656.84,353.72 657.94,354.01 659.04,354.34 660.15,354.38 661.25,354.51 662.35,355.00 663.46,355.46 664.56,355.65 665.66,355.75 666.76,356.06 667.87,356.59 668.97,357.01 670.07,357.14 671.18,357.23 672.28,357.36 673.38,357.43 674.49,357.75 675.59,358.21 676.69,358.41 677.79,358.30 678.90,358.05 680.00,357.89 681.10,357.97 682.21,358.20 683.31,358.05 684.41,357.81 685.51,358.06 686.62,358.09 687.72,357.69 688.82,357.94 689.93,358.60 691.03,358.71 692.13,358.40 693.24,358.45 694.34,359.07 695.44,359.36 696.54,359.06 697.65,358.95 698.75,359.39 699.85,359.77 700.96,359.78 702.06,359.88 703.16,360.20 704.26,360.54 705.37,360.65 706.47,360.50 707.57,360.17 708.68,360.31 709.78,360.96 710.88,361.21 711.99,361.02 713.09,360.67 714.19,360.17 715.29,359.95 716.40,359.90 717.50,359.94 718.60,359.90 719.71,359.43 720.81,359.35 721.91,359.59 723.01,359.90 724.12,360.11 725.22,360.26 726.32,360.86 727.43,361.36 728.53,361.59 729.63,362.20 730.74,362.78 731.84,363.15 732.94,363.62 734.04,364.11 735.15,364.31 736.25,364.07 737.35,363.99 738.46,364.01 739.56,363.90 740.66,363.89 741.76,363.72 742.87,363.37 743.97,363.31 745.07,363.32 746.18,363.59 747.28,364.10 748.38,364.55 749.49,364.88 750.59,365.26 751.69,365.74 752.79,365.89 753.90,366.16 755.00,366.67 756.10,366.46 757.21,365.68 758.31,365.19 759.41,365.12 760.51,364.90 761.62,364.43 762.72,364.01 763.82,363.98 764.93,363.74 766.03,363.02 767.13,362.76 768.24,363.12 769.34,363.24 770.44,363.15 771.54,363.44 772.65,363.69 773.75,363.85 774.85,363.99 775.96,363.78 777.06,363.86 778.16,364.42 779.26,364.90 780.37,365.00 781.47,365.16 782.57,365.57"/>
<rect x="66.1" y="14.45" width="466.3" height="374.9" fill="none" stroke="#000" stroke-width="1.55"/>
<line x1="58.9" x2="66.1" y1="329.7" y2="329.7" stroke="#000" stroke-width="1.6"/>
<text transform="translate(53.4,334.2) scale(0.9,1)" font-size="17.4" text-anchor="end">100</text>
<line x1="58.9" x2="66.1" y1="266.6" y2="266.6" stroke="#000" stroke-width="1.6"/>
<text transform="translate(53.4,271.1) scale(0.9,1)" font-size="17.4" text-anchor="end">200</text>
<line x1="58.9" x2="66.1" y1="203.6" y2="203.6" stroke="#000" stroke-width="1.6"/>
<text transform="translate(53.4,208.1) scale(0.9,1)" font-size="17.4" text-anchor="end">300</text>
<line x1="58.9" x2="66.1" y1="140.6" y2="140.6" stroke="#000" stroke-width="1.6"/>
<text transform="translate(53.4,145.1) scale(0.9,1)" font-size="17.4" text-anchor="end">400</text>
<line x1="58.9" x2="66.1" y1="77.6" y2="77.6" stroke="#000" stroke-width="1.6"/>
<text transform="translate(53.4,82.1) scale(0.9,1)" font-size="17.4" text-anchor="end">500</text>
<line x1="58.9" x2="66.1" y1="14.6" y2="14.6" stroke="#000" stroke-width="1.6"/>
<text transform="translate(53.4,19.1) scale(0.9,1)" font-size="17.4" text-anchor="end">600</text>
<line x1="66.1" x2="66.1" y1="389.3" y2="397" stroke="#000" stroke-width="1.8"/>
<text transform="translate(66.0,417.1) scale(0.905,1)" font-size="21.1" text-anchor="middle">10</text>
<line x1="159.4" x2="159.4" y1="389.3" y2="397" stroke="#000" stroke-width="1.8"/>
<text transform="translate(159.3,417.1) scale(0.905,1)" font-size="21.1" text-anchor="middle">20</text>
<line x1="252.6" x2="252.6" y1="389.3" y2="397" stroke="#000" stroke-width="1.8"/>
<text transform="translate(252.5,417.1) scale(0.905,1)" font-size="21.1" text-anchor="middle">30</text>
<line x1="345.9" x2="345.9" y1="389.3" y2="397" stroke="#000" stroke-width="1.8"/>
<text transform="translate(345.8,417.1) scale(0.905,1)" font-size="21.1" text-anchor="middle">40</text>
<line x1="439.1" x2="439.1" y1="389.3" y2="397" stroke="#000" stroke-width="1.8"/>
<text transform="translate(439.0,417.1) scale(0.905,1)" font-size="21.1" text-anchor="middle">50</text>
<line x1="532.4" x2="532.4" y1="389.3" y2="397" stroke="#000" stroke-width="1.8"/>
<text transform="translate(532.3,417.1) scale(0.905,1)" font-size="21.1" text-anchor="middle">60</text>
<text x="299" y="451.2" font-size="21.4" font-weight="bold" text-anchor="middle">2θ (degree)</text>
<text transform="translate(21.5,201.2) rotate(-90) scale(0.944,1)" font-size="22.4" font-weight="bold" text-anchor="middle">Intensity(a.u.)</text>
<rect x="249.4" y="35.2" width="251.3" height="81.9" fill="#fff" stroke="#000" stroke-width="1"/>
<line x1="251.5" x2="287.7" y1="46.7" y2="46.7" stroke="#6a6a6a" stroke-width="1.05"/>
<text transform="translate(291.7,51.9) scale(0.934,1)" font-size="17.1">Coconut shell</text>
<line x1="251.5" x2="287.7" y1="66.1" y2="66.1" stroke="#f42a2a" stroke-width="1.05"/>
<text transform="translate(291.7,71.65) scale(0.934,1)" font-size="17.1">Holocellulose</text>
<line x1="251.5" x2="287.7" y1="86.3" y2="86.3" stroke="#0f5fe6" stroke-width="1.05"/>
<text transform="translate(291.7,92.05) scale(0.934,1)" font-size="17.1">α-cellulose</text>
<line x1="251.5" x2="287.7" y1="106.1" y2="106.1" stroke="#12a35a" stroke-width="1.05"/>
<text transform="translate(291.7,111.75) scale(0.934,1)" font-size="17.1">Hemicellulose extracted powder</text>
</svg></body></html>
